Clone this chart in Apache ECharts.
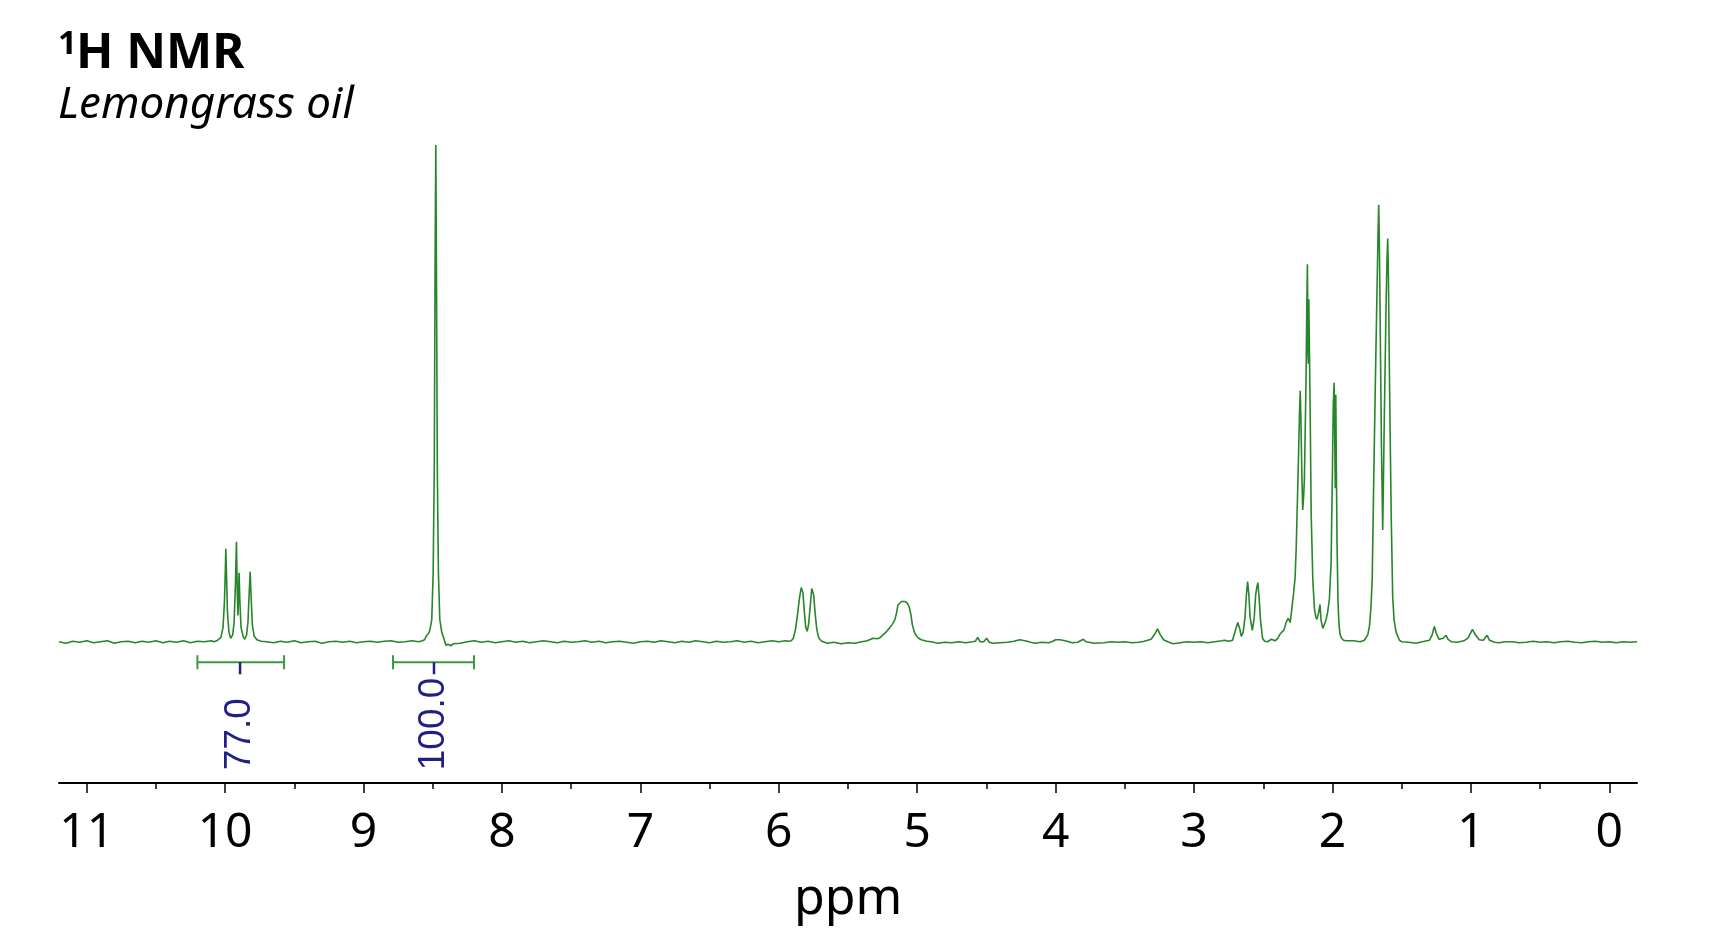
<!DOCTYPE html>
<html>
<head>
<meta charset="utf-8">
<title>1H NMR - Lemongrass oil</title>
<script src="https://cdn.jsdelivr.net/npm/echarts@6/dist/echarts.min.js"></script>
<style>
  html, body { margin: 0; padding: 0; background: #ffffff; }
  #chart { width: 1710px; height: 932px; }
</style>
</head>
<body>
<div id="chart"></div>
<script>
// ---------- DATA (ppm, relative intensity; tallest peak = 100) ----------
var regionAldehyde = [
  [11.2,0.1],[11.15,-0.2],[11.1,0.2],[11.05,0],[11.0,0.3],[10.95,-0.1],[10.9,0.1],[10.85,0.3],[10.8,-0.2],
  [10.75,0.1],[10.7,0.2],[10.65,-0.1],[10.6,0.2],[10.55,0],[10.5,0.3],[10.45,-0.1],[10.4,0.2],[10.35,0],
  [10.3,0.3],[10.25,-0.1],[10.2,0.2],[10.15,0.1],[10.1,0.3],[10.08,0.1],[10.06,0.3],[10.03,1.0],[10.015,3],
  [10.005,8],[9.998,15],[9.995,18.8],[9.991,15],[9.983,6],[9.972,2],[9.96,0.8],[9.955,0.7],[9.945,1.5],
  [9.935,4],[9.925,12],[9.918,20.2],[9.912,10],[9.907,5.4],[9.899,14],[9.893,8],[9.885,3],[9.87,1.2],
  [9.858,0.6],[9.845,1.5],[9.835,4],[9.826,10],[9.819,14.2],[9.812,9],[9.803,3.5],[9.79,1.2],[9.77,0.5],[9.74,0.2]
];
var regionStandard = [
  [9.7,0.1],[9.65,-0.1],[9.6,0.2],[9.55,0],[9.5,0.3],[9.45,-0.1],[9.4,0.1],[9.35,0.2],[9.3,-0.2],[9.25,0.1],
  [9.2,0.2],[9.15,0],[9.1,0.2],[9.05,-0.1],[9.0,0.1],[8.95,0.2],[8.9,0],[8.85,0.2],[8.8,0.3],[8.75,0],
  [8.7,0.1],[8.65,0.3],[8.6,0.1],[8.575,0.3],[8.56,0.5],[8.545,1.3],[8.53,1.8],[8.52,2.5],[8.507,4.6],
  [8.497,14],[8.489,35],[8.483,75],[8.478,100],[8.473,75],[8.467,35],[8.459,14],[8.449,4.6],[8.435,2.0],
  [8.42,0.8],[8.405,-0.6],[8.39,-0.4],[8.37,-0.7],[8.35,-0.3],[8.3,-0.2],[8.25,0.1],[8.2,0.3]
];
var regionAromaticBaseline = [
  [8.15,0],[8.1,0.2],[8.05,-0.1],[8.0,0.1],[7.95,0.3],[7.9,0],[7.85,0.2],[7.8,-0.1],[7.75,0.1],[7.7,0.3],
  [7.65,0.1],[7.6,-0.1],[7.55,0.2],[7.5,0],[7.45,0.1],[7.4,0.3],[7.35,0],[7.3,0.2],[7.25,-0.1],[7.2,0.1],
  [7.15,0.2],[7.1,0],[7.05,-0.2],[7.0,0.1],[6.95,0.2],[6.9,0],[6.85,0.3],[6.8,0.1],[6.75,-0.1],[6.7,0.2],
  [6.65,0],[6.6,0.3],[6.55,0.1],[6.5,-0.1],[6.45,0.2],[6.4,0],[6.35,0.1],[6.3,0.3],[6.25,0],[6.2,0.2],
  [6.15,-0.1],[6.1,0.1],[6.05,0.3],[6.0,0.1],[5.95,0.3],[5.93,0.2]
];
var regionOlefinic = [
  [5.91,0.3],[5.895,0.8],[5.88,2.5],[5.865,5.5],[5.85,9],[5.838,11],[5.834,11.2],[5.826,10],[5.815,6],
  [5.805,3],[5.795,2.2],[5.785,3.5],[5.772,7.5],[5.762,10.8],[5.755,11.2],[5.748,9.5],[5.738,6],[5.725,2.5],
  [5.71,0.8],[5.69,0.2],[5.65,-0.2],[5.6,0],[5.55,-0.3],[5.5,-0.1],[5.45,-0.2],[5.4,0.1],[5.36,0.3],
  [5.32,0.8],[5.29,0.7],[5.27,0.9],[5.247,1.5],[5.22,2.2],[5.199,2.9],[5.18,3.6],[5.162,4.5],[5.15,5.8],
  [5.139,7.5],[5.125,7.8],[5.114,8.2],[5.1,7.9],[5.09,8.2],[5.075,8.0],[5.059,7.2],[5.045,5.5],[5.035,3.5],
  [5.02,2.0],[5.006,1.3],[4.99,0.8],[4.97,0.5],[4.93,0.2],[4.9,0.1]
];
var regionMid = [
  [4.85,-0.2],[4.8,0],[4.75,-0.1],[4.7,0.1],[4.65,-0.1],[4.6,0.1],[4.58,0.2],[4.563,1.0],[4.545,0.1],
  [4.52,0.1],[4.498,0.8],[4.48,0],[4.45,-0.2],[4.4,-0.1],[4.35,0],[4.3,0.2],[4.26,0.5],[4.22,0.3],[4.18,0],
  [4.15,-0.2],[4.1,0],[4.05,-0.1],[4.02,0.2],[4.0,0.5],[3.97,0.5],[3.93,0.3],[3.88,-0.1],[3.84,0],[3.8,0.6],
  [3.78,0.1],[3.72,-0.2],[3.65,-0.1],[3.6,0.1],[3.55,0],[3.5,0.1],[3.45,-0.1],[3.4,0],[3.36,0.2],[3.31,0.6],
  [3.285,1.6],[3.264,2.7],[3.245,1.6],[3.22,0.5],[3.19,0.1],[3.15,-0.3],[3.1,-0.1],[3.05,0.1],[3.0,0],
  [2.95,0.1],[2.9,-0.1],[2.85,0.1],[2.8,0.3],[2.78,0.4],[2.75,0.2]
];
var regionAliphatic = [
  [2.722,0.4],[2.70,2.5],[2.684,4],[2.668,2.5],[2.659,1.2],[2.645,2],[2.632,5],[2.622,9.5],[2.613,12.2],
  [2.604,9.5],[2.595,5],[2.579,2.4],[2.565,5],[2.555,9.5],[2.547,11],[2.539,12],[2.53,9],[2.52,4.5],
  [2.505,0.8],[2.49,0.2],[2.47,0.1],[2.44,0.6],[2.415,0.3],[2.395,0.8],[2.38,1.6],[2.37,1.5],[2.35,2.5],
  [2.335,4],[2.32,4.8],[2.305,4.0],[2.282,9.6],[2.27,13],[2.262,19],[2.25,32],[2.238,46],[2.233,50.6],
  [2.228,45],[2.222,35],[2.215,26.6],[2.209,29],[2.203,32.6],[2.191,52.6],[2.186,66],[2.181,76],[2.177,58],
  [2.174,56],[2.171,69],[2.167,60],[2.161,46],[2.154,26],[2.142,12.6],[2.13,6.6],[2.121,5.2],[2.113,4.6],
  [2.106,4.8],[2.1,6],[2.09,7.6],[2.083,4.5],[2.07,2.8],[2.058,3.6],[2.046,4.6],[2.035,6],[2.022,8.8],
  [2.01,16],[2.0,35],[1.994,48],[1.988,52.2],[1.983,40],[1.98,31],[1.976,49.8],[1.972,35],[1.967,20],
  [1.96,8],[1.953,3.6],[1.945,1.6],[1.935,0.8],[1.92,0.4],[1.9,0.3]
];
var regionMethyl = [
  [1.85,0.3],[1.8,0.1],[1.77,0.4],[1.757,0.6],[1.745,1.5],[1.733,3.2],[1.722,7],[1.713,12.6],[1.702,32.6],
  [1.69,52.6],[1.677,72.6],[1.671,82],[1.666,88],[1.661,80],[1.656,66],[1.646,39],[1.637,22.6],[1.625,46],
  [1.612,69],[1.606,77],[1.601,81.2],[1.596,74],[1.588,52.6],[1.576,26],[1.565,9.2],[1.555,4.5],[1.54,2],
  [1.516,0.4],[1.5,0.1],[1.45,0],[1.4,-0.2],[1.35,0.1],[1.3,0.4],[1.28,1.5],[1.264,3.2],[1.25,1.8],
  [1.23,0.6],[1.2,0.8],[1.179,1.4],[1.165,0.6],[1.14,0.1],[1.1,0],[1.05,0.3],[1.02,0.9],[0.989,2.6],
  [0.97,1.6],[0.94,0.5],[0.91,0.4],[0.883,1.4],[0.865,0.4],[0.83,0],[0.8,-0.1],[0.75,0.1],[0.7,0.1],
  [0.65,-0.1],[0.6,0],[0.55,0.2],[0.5,0],[0.45,0.1],[0.4,-0.1],[0.35,0.1],[0.3,0.2],[0.25,0],[0.2,-0.1],
  [0.15,0.1],[0.1,0.2],[0.05,0],[0,0.1],[-0.05,-0.1],[-0.1,0.1],[-0.15,0],[-0.2,0.1]
];

var integralStart  = [10.20, 8.787];
var integralEnd    = [9.574, 8.202];
var integralCenter = [9.892, 8.491];
var integralLabels = ['77.0', '100.0'];

var majorTicks = [0,1,2,3,4,5,6,7,8,9,10,11];
var minorTicks = [0.5,1.5,2.5,3.5,4.5,5.5,6.5,7.5,8.5,9.5,10.5];

var titleMain = 'H NMR';
var titleSup = '1';
var subtitle = 'Lemongrass oil';
var axisTitle = 'ppm';

// ---------- CHART ----------
var spectrum = [].concat(regionAldehyde, regionStandard, regionAromaticBaseline,
  regionOlefinic, regionMid, regionAliphatic, regionMethyl);

var integralData = integralStart.map(function (s, i) {
  return [s, integralEnd[i], integralCenter[i]];
});

var GREEN = '#27862a';
var INT_GREEN = '#3a9b3a';
var NAVY = '#1f1f86';
var FONT = '"Noto Sans", "DejaVu Sans", sans-serif';
var LABEL_FONT = '"Liberation Sans", Arial, sans-serif';

var chart = echarts.init(document.getElementById('chart'), null, { renderer: 'canvas' });

var xCommon = {
  type: 'value', gridIndex: 0, min: -0.2, max: 11.2, inverse: true, position: 'bottom',
  splitLine: { show: false }
};

chart.setOption({
  animation: false,
  backgroundColor: '#ffffff',
  graphic: [
    { type: 'text', left: 58, top: 28, style: { text: titleSup, font: 'bold 33px "Noto Sans", sans-serif', fill: '#000' } },
    { type: 'text', left: 76, top: 30, style: { text: titleMain, font: 'bold 49px "Noto Sans", sans-serif', fill: '#000' } },
    { type: 'text', left: 58, top: 83, style: { text: subtitle, font: 'italic 44px "Noto Sans", sans-serif', fill: '#000' } }
  ],
  grid: { left: 59, right: 73, top: 145, height: 638, containLabel: false, outerBoundsMode: 'none' },
  xAxis: [
    Object.assign({}, xCommon, {
      axisLine: { show: true, onZero: false, lineStyle: { color: '#000', width: 2 } },
      axisTick: { show: true, customValues: majorTicks, length: 10, lineStyle: { color: '#000', width: 1.5 } },
      axisLabel: { show: true, customValues: majorTicks, margin: 26, color: '#000', fontSize: 48, fontFamily: FONT },
      name: axisTitle, nameLocation: 'middle', nameGap: 92,
      nameTextStyle: { color: '#000', fontSize: 50, fontFamily: FONT }
    }),
    Object.assign({}, xCommon, {
      axisLine: { show: false, onZero: false },
      axisTick: { show: true, customValues: minorTicks, length: 6, lineStyle: { color: '#000', width: 1.5 } },
      axisLabel: { show: false }
    })
  ],
  yAxis: { type: 'value', min: -28.3, max: 100, show: false },
  series: [
    {
      type: 'line', xAxisIndex: 0, data: spectrum, showSymbol: false, symbol: 'none', smooth: false,
      lineStyle: { color: GREEN, width: 1.6 }, clip: false, silent: true
    },
    {
      type: 'custom', xAxisIndex: 0, data: integralData, clip: false, silent: true,
      encode: { x: [0, 1, 2] },
      renderItem: function (params, api) {
        var s = api.coord([api.value(0), 0]);
        var e = api.coord([api.value(1), 0]);
        var c = api.coord([api.value(2), 0]);
        var y = s[1] + 20;
        return {
          type: 'group',
          children: [
            { type: 'line', shape: { x1: s[0], y1: y, x2: e[0], y2: y }, style: { stroke: INT_GREEN, lineWidth: 2 } },
            { type: 'line', shape: { x1: s[0], y1: y - 7, x2: s[0], y2: y + 7 }, style: { stroke: INT_GREEN, lineWidth: 2 } },
            { type: 'line', shape: { x1: e[0], y1: y - 7, x2: e[0], y2: y + 7 }, style: { stroke: INT_GREEN, lineWidth: 2 } },
            { type: 'line', shape: { x1: c[0], y1: y, x2: c[0], y2: y + 12 }, style: { stroke: NAVY, lineWidth: 2.5 } },
            {
              type: 'text', x: c[0], y: s[1] + 128, rotation: Math.PI / 2,
              style: { text: integralLabels[params.dataIndex], fill: NAVY, font: '37px ' + LABEL_FONT, align: 'left', verticalAlign: 'middle' }
            }
          ]
        };
      }
    }
  ]
});
</script>
</body>
</html>
